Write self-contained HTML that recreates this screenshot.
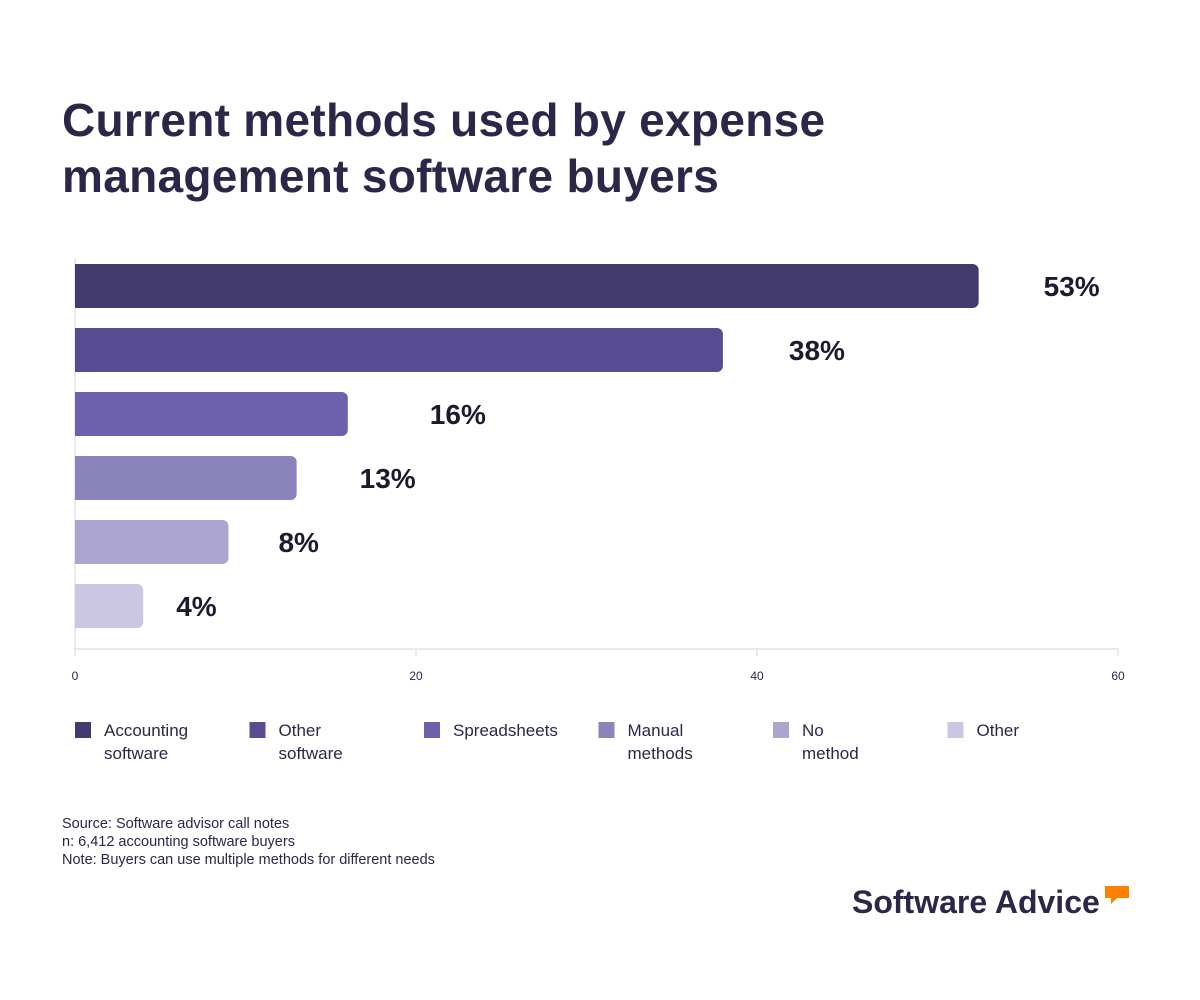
<!DOCTYPE html>
<html><head><meta charset="utf-8"><style>
body{margin:0;background:#fff;font-family:"Liberation Sans",sans-serif;}
#root{position:relative;width:1200px;height:1000px;overflow:hidden;background:#fff;}
h1{position:absolute;left:62px;top:92px;margin:0;font-size:46px;line-height:56px;font-weight:bold;color:#2c2749;letter-spacing:0.3px;}
.src{position:absolute;left:62px;top:815px;font-size:14.5px;line-height:18px;color:#2c2749;}
.logo{position:absolute;left:852px;top:884px;font-size:32px;font-weight:bold;color:#2c2749;}
</style></head><body>
<div id="root">
<h1>Current methods used by expense<br>management software buyers</h1>
<svg id="chart" width="1200" height="800" style="position:absolute;left:0;top:0"></svg>
<div class="src">Source: Software advisor call notes<br>n: 6,412 accounting software buyers<br>Note: Buyers can use multiple methods for different needs</div>
<div class="logo">Software Advice</div>
<svg style="position:absolute;left:1104px;top:885px" width="28" height="22"><path d="M1 1h24v12h-12l-6 6v-6h-6z" fill="#ff8000"/></svg>
</div>
<script>
const categories=["Accounting software","Other software","Spreadsheets","Manual methods","No method","Other"];
const legendLines=[["Accounting","software"],["Other","software"],["Spreadsheets"],["Manual","methods"],["No","method"],["Other"]];
const values=[53,38,16,13,9,4];
const valueLabels=["53%","38%","16%","13%","8%","4%"];
const ticks=[0,20,40,60];
const colors=["#433a6e","#574c91","#6d61ad","#8b84bc","#aba5d0","#cbc6e3"];
const labelGap=[65,66,82,63,50,33];
const svg=document.getElementById('chart');
const NS="http://www.w3.org/2000/svg";
const x0=75,pxPer=17.05,yTop=264,pitch=64,bh=44;
const xs=v=>x0+v*pxPer;
function mk(t,a){const e=document.createElementNS(NS,t);for(const k in a)e.setAttribute(k,a[k]);svg.appendChild(e);return e;}
let l=mk('line',{x1:x0,y1:258,x2:x0,y2:649,stroke:'#e3e3e8','stroke-width':1.5});


l=mk('line',{x1:x0,y1:649,x2:1118,y2:649,stroke:'#e3e3e8','stroke-width':1.5});


ticks.forEach((t,i)=>{
  const x=i===ticks.length-1?1118:xs(t);
  const tk=mk('line',{x1:x,y1:649,x2:x,y2:656,stroke:'#e3e3e8','stroke-width':1.5});
  
  
  const tx=mk('text',{x:x,y:680,'text-anchor':'middle','font-size':12,fill:'#2c2749','font-family':'Liberation Sans, sans-serif'});
  tx.textContent=t;
  
  
});
values.forEach((v,i)=>{
  const y=yTop+i*pitch;
  const r=mk('path',{d:`M${x0} ${y}H${xs(v)-6}a6 6 0 0 1 6 6V${y+bh-6}a6 6 0 0 1 -6 6H${x0}Z`,fill:colors[i]});
  
  
  const t=mk('text',{x:xs(v)+labelGap[i],y:y+bh/2+10,'font-size':28,'font-weight':'bold',fill:'#1c1a2e','font-family':'Liberation Sans, sans-serif'});
  t.textContent=valueLabels[i];
  
  
});
categories.forEach((c,i)=>{
  const lx=75+i*174.5;
  const sw=mk('rect',{x:lx,y:722,width:16,height:16,fill:colors[i]});
  
  
  legendLines[i].forEach((ln,j)=>{
    const t=mk('text',{x:lx+29,y:736+j*23,'font-size':17,fill:'#2c2749','font-family':'Liberation Sans, sans-serif'});
    t.textContent=ln;
    
    
  });
});
</script>
</body></html>
